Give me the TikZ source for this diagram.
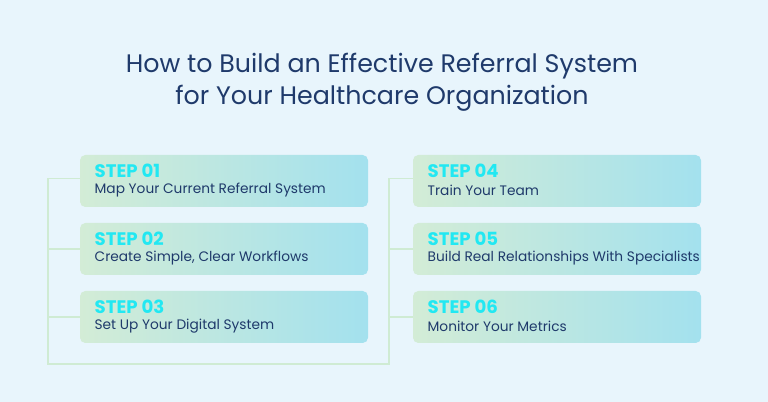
\documentclass[tikz,border=0pt]{standalone}
\usepackage{fontspec}
\setmainfont{Poppins}
\usetikzlibrary{positioning}
\definecolor{bgblue}{HTML}{E8F5FC}
\definecolor{navy}{HTML}{1F3A6B}
\definecolor{stepcyan}{HTML}{22E8F2}
\definecolor{boxgreen}{HTML}{D3ECD6}
\definecolor{boxcyan}{HTML}{A3E1EE}
\definecolor{linegreen}{HTML}{CFEBD3}
\begin{document}
\begin{tikzpicture}[x=0.75pt,y=-0.75pt]
        \tikzset{
                stepbox/.style = {rectangle, rounded corners=4pt, minimum width=216pt, minimum height=39pt,
                                left color=boxgreen, right color=boxcyan, draw=none},
                tag/.style  = {font=\bfseries\fontsize{13.6}{14}\selectfont, text=stepcyan, anchor=west, inner sep=0pt},
                desc/.style = {font=\fontsize{10.3}{11}\selectfont, text=navy, anchor=west, inner sep=0pt},
                link/.style = {draw=linegreen, line width=1.2pt}
        }
        % background
        \fill[bgblue] (0,0) rectangle (768,402);
        \useasboundingbox (0,0) rectangle (768,402);
        % title
        \node[font=\fontsize{19}{24}\selectfont, text=navy, align=center] (title) at (382,82)
                {How to Build an Effective Referral System\\for Your Healthcare Organization};

        % step boxes, left and right columns
        \foreach \i/\x/\y/\t in {1/224/181/Map Your Current Referral System,
                                 2/224/249/{Create Simple, Clear Workflows},
                                 3/224/317/Set Up Your Digital System,
                                 4/557/181/Train Your Team,
                                 5/557/249/Build Real Relationships With Specialists,
                                 6/557/317/Monitor Your Metrics} {
                \node[stepbox] (s\i) at (\x,\y) {};
                \node[tag] (t\i) at ([xshift=11pt,yshift=8pt]s\i.west) {STEP 0\i};
                \node[desc] (d\i) at ([xshift=11pt,yshift=-7pt]s\i.west) {\t};
        }

        % bracket lines
        \coordinate (cl) at (48,364);
        \coordinate (cr) at (389,364);
        \draw[link] ([yshift=2pt]s1.west) -| (cl) -- (cr) |- ([yshift=2pt]s4.west);
        \foreach \i in {2,3} {
                \draw[link] (s\i.west) -- (s\i.west -| cl);
        }
        \foreach \i in {5,6} {
                \draw[link] (s\i.west) -- (s\i.west -| cr);
        }
\end{tikzpicture}
\end{document}
